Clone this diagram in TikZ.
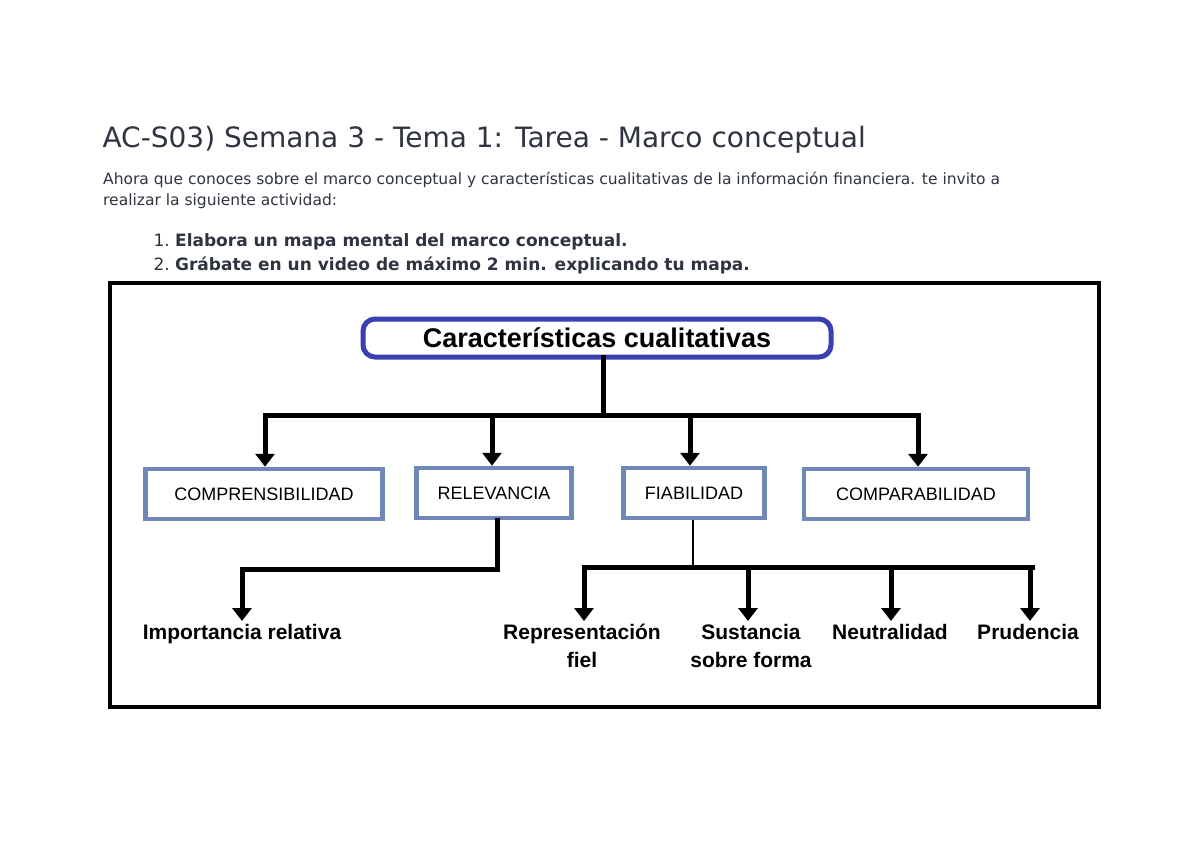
\documentclass[tikz,border=0pt]{standalone}
\usepackage{fontspec}
\setmainfont{DejaVu Sans}
\newfontfamily\arial{Liberation Sans}
\usetikzlibrary{arrows.meta}
\definecolor{txt}{HTML}{2E3440}
\definecolor{ovalblue}{HTML}{3A40B0}
\definecolor{boxblue}{HTML}{6F88B8}
\begin{document}
\begin{tikzpicture}[x=1pt,y=-1pt,
  conn/.style={line width=5pt,line cap=rect},
  arr/.style={line width=5pt,-{Triangle[length=13pt,width=19pt]}},
  cbox/.style={draw=boxblue,line width=4.5pt,fill=white,minimum height=50pt,font=\arial\fontsize{18}{20}\selectfont,inner xsep=6pt},
  lbl/.style={font=\arial\bfseries\fontsize{21}{28}\selectfont,align=center,text depth=0pt}]
\useasboundingbox (0,0) rectangle (1200,849);
\fill[white] (0,0) rectangle (1200,849);
\node[anchor=west,text=txt,font=\fontsize{28}{32}\selectfont] (title) at (99,140) {AC-S03) Semana 3 - Tema 1: Tarea - Marco conceptual};
\node[anchor=north west,text=txt,font=\fontsize{15.5}{21}\selectfont,align=left,inner sep=0pt] (intro) at (103,172) {Ahora que conoces sobre el marco conceptual y características cualitativas de la información financiera. te invito a\\realizar la siguiente actividad:};
\node[anchor=west,text=txt,font=\fontsize{17}{20}\selectfont] (l1) at (150,242) {1.\ \textbf{Elabora un mapa mental del marco conceptual.}};
\node[anchor=west,text=txt,font=\fontsize{17}{20}\selectfont] (l2) at (150,265) {2.\ \textbf{Grábate en un video de máximo 2 min. explicando tu mapa.}};
\draw[line width=4.5pt] (110,283) rectangle (1099,707);
\node[draw=ovalblue,line width=5pt,rounded corners=12pt,minimum width=468pt,minimum height=38pt,font=\arial\bfseries\fontsize{27}{30}\selectfont] (top) at (597,338) {Características cualitativas};
\coordinate (j1) at (603,415);
\draw[conn] (603,357) -- (j1);
\draw[conn] (265,415) -- (918,415);
\node[cbox,minimum width=237pt] (c1) at (264,494) {COMPRENSIBILIDAD};
\node[cbox,minimum width=155pt] (c2) at (494,493) {RELEVANCIA};
\node[cbox,minimum width=141pt] (c3) at (694,493) {FIABILIDAD};
\node[cbox,minimum width=224pt] (c4) at (916,494) {COMPARABILIDAD};
\foreach \x/\n in {265/c1,492/c2,690/c3,918/c4} \draw[arr] (\x,413) -- (\x,0 |- \n.north);
\draw[conn] (497,0 |- c2.south) -- (497,569) -- (242,569);
\node[lbl,anchor=north] (ir) at (242,621) {Importancia relativa};
\draw[arr] (242,569) -- (242,0 |- ir.north);
\draw[line width=2pt] (693,0 |- c3.south) -- (693,567);
\draw[conn] (584,567) -- (1032,567);
\node[lbl,anchor=north] (rf) at (582,621) {Representación\\fiel};
\node[lbl,anchor=north] (sf) at (751,621) {Sustancia\\sobre forma};
\node[lbl,anchor=north] (ne) at (890,621) {Neutralidad};
\node[lbl,anchor=north] (pr) at (1028,621) {Prudencia};
\foreach \x/\n in {584/rf,748/sf,891/ne,1030/pr} \draw[arr] (\x,567) -- (\x,0 |- \n.north);
\end{tikzpicture}
\end{document}
